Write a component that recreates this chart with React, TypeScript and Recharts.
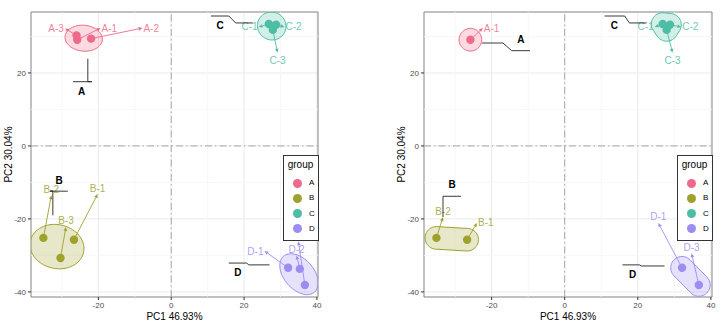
import React from 'react';
import { ScatterChart, Scatter, XAxis, YAxis, CartesianGrid, ReferenceLine, ReferenceArea } from 'recharts';

const groups = ['A', 'B', 'C', 'D'];
const groupColors = ['#EE6A8A', '#A0A12C', '#4DBEA4', '#9D8DF3'];

const sampleNames = ['A-1', 'A-2', 'A-3', 'B-1', 'B-2', 'B-3', 'C-1', 'C-2', 'C-3', 'D-1', 'D-2', 'D-3'];
const sampleGroup = [0, 0, 0, 1, 1, 1, 2, 2, 2, 3, 3, 3];
const pc1 = [-25.8, -22.0, -26.0, -26.7, -35.1, -30.4, 26.8, 28.8, 27.9, 32.1, 35.3, 36.7];
const pc2 = [29.1, 29.4, 30.3, -25.7, -25.2, -30.7, 33.4, 33.2, 31.8, -33.4, -33.7, -38.1];

// left panel: every sample, repel label anchors (arrow ends)
const leftSamples = [0, 1, 2, 3, 4, 5, 6, 7, 8, 9, 10, 11];
const leftLabelX = [-19.4, -7.9, -29.2, -20.2, -32.9, -28.9, 24.0, 31.1, 29.2, 25.6, 34.4, 34.9];
const leftLabelY = [32.3, 32.3, 32.2, -13.2, -13.5, -22.2, 32.6, 32.6, 25.5, -28.8, -30.0, -26.1];
const leftLabelSide = ['right', 'right', 'left', 'above', 'above', 'above', 'left', 'right', 'below', 'left', 'above', 'above'];

// right panel: subset of samples
const rightSamples = [0, 3, 4, 6, 7, 8, 9, 11];
const rightLabelX = [-22.4, -24.0, -33.3, 24.6, 31.9, 29.5, 25.6, 34.7];
const rightLabelY = [32.3, -21.1, -19.5, 32.6, 32.6, 25.5, -21.1, -29.4];
const rightLabelSide = ['right', 'right', 'above', 'left', 'right', 'below', 'above', 'above'];

// group tags (elbow connectors + text), per group A..D
const leftTagLines = [
  [[-22.9, 23.9], [-22.9, 17.6], [-21.8, 17.6], [-27.0, 17.6]],
  [[-32.5, -19.0], [-32.5, -12.4], [-33.3, -12.4], [-28.4, -12.4]],
  [[22.4, 33.7], [17.7, 33.7], [15.8, 35.6], [10.9, 35.6]],
  [[27.0, -32.6], [21.3, -32.6], [20.7, -32.1], [15.8, -32.1]],
];
const leftTagText = [[-24.6, 14.9], [-30.8, -9.4], [13.4, 32.9], [18.3, -34.8]];
const rightTagLines = [
  [[-22.6, 28.2], [-16.9, 28.2], [-14.5, 26.1], [-9.5, 26.1]],
  [[-33.3, -19.5], [-33.3, -13.8], [-28.4, -13.8]],
  [[22.4, 33.7], [17.7, 33.7], [16.4, 35.6], [10.9, 35.6]],
  [[27.3, -32.9], [21.0, -32.9], [20.5, -32.6], [15.8, -32.6]],
];
const rightTagText = [[-12.0, 29.1], [-30.8, -10.5], [13.6, 32.9], [18.6, -35.3]];

const xTicks = [-20, 0, 20, 40];
const yTicks = [-40, -20, 0, 20];
const xMinor = [-30, -10, 10, 30];
const yMinor = [-30, -10, 10, 30];
const xDomain = [-38.5, 40.3];
const yDomain = [-41.4, 36.7];

const FONT = '"Liberation Sans", Arial, sans-serif';

const ellipseOutline = (xs: number[], ys: number[], pad: number) => {
  const n = xs.length;
  const mx = xs.reduce((a, b) => a + b, 0) / n;
  const my = ys.reduce((a, b) => a + b, 0) / n;
  let sxx = 0, syy = 0, sxy = 0;
  xs.forEach((x, i) => {
    sxx += (x - mx) * (x - mx);
    syy += (ys[i] - my) * (ys[i] - my);
    sxy += (x - mx) * (ys[i] - my);
  });
  const th = 0.5 * Math.atan2(2 * sxy, sxx - syy);
  const c = Math.cos(th), s = Math.sin(th);
  const us = xs.map((x, i) => (x - mx) * c + (ys[i] - my) * s);
  const vs = xs.map((x, i) => -(x - mx) * s + (ys[i] - my) * c);
  const u0 = (Math.min(...us) + Math.max(...us)) / 2;
  const v0 = (Math.min(...vs) + Math.max(...vs)) / 2;
  const a = ((Math.max(...us) - Math.min(...us)) / 2) * 1.1 + pad;
  const b = ((Math.max(...vs) - Math.min(...vs)) / 2) * 1.1 + pad;
  const cx = mx + u0 * c - v0 * s;
  const cy = my + u0 * s + v0 * c;
  const out = [];
  for (let k = 0; k < 72; k++) {
    const t = (k / 72) * Math.PI * 2;
    const u = a * Math.cos(t), v = b * Math.sin(t);
    out.push({ x: cx + u * c - v * s, y: cy + u * s + v * c });
  }
  return out;
};

const hullOutline = (xs: number[], ys: number[], r: number) => {
  const pts: { x: number; y: number }[] = [];
  xs.forEach((x, i) => {
    for (let k = 0; k < 48; k++) {
      const t = (k / 48) * Math.PI * 2;
      pts.push({ x: x + r * Math.cos(t), y: ys[i] + r * Math.sin(t) });
    }
  });
  pts.sort((p, q) => (p.x === q.x ? p.y - q.y : p.x - q.x));
  const cross = (o: any, a: any, b: any) => (a.x - o.x) * (b.y - o.y) - (a.y - o.y) * (b.x - o.x);
  const lower: any[] = [];
  for (const p of pts) {
    while (lower.length >= 2 && cross(lower[lower.length - 2], lower[lower.length - 1], p) <= 0) lower.pop();
    lower.push(p);
  }
  const upper: any[] = [];
  for (let i = pts.length - 1; i >= 0; i--) {
    const p = pts[i];
    while (upper.length >= 2 && cross(upper[upper.length - 2], upper[upper.length - 1], p) <= 0) upper.pop();
    upper.push(p);
  }
  return lower.slice(0, -1).concat(upper.slice(0, -1));
};

const hiddenShape = () => <g />;

const closedShape = (color: string) => (props: any) => {
  const pts = props.points || [];
  if (!pts.length) return <g />;
  const d = pts.map((p: any, i: number) => `${i ? 'L' : 'M'}${p.x},${p.y}`).join('') + 'Z';
  return <path d={d} fill={color} fillOpacity={0.25} stroke={color} strokeWidth={1} />;
};

const arrowLine = (color: string) => (props: any) => {
  const pts = props.points || [];
  if (pts.length < 2) return <g />;
  const p = pts[0], q = pts[1];
  const dx = q.x - p.x, dy = q.y - p.y;
  const len = Math.hypot(dx, dy) || 1;
  const ux = dx / len, uy = dy / len;
  const sx = p.x + ux * 4, sy = p.y + uy * 4;
  const bx = q.x - ux * 4, by = q.y - uy * 4;
  return (
    <g>
      <line x1={sx} y1={sy} x2={bx} y2={by} stroke={color} strokeWidth={0.9} />
      <polygon points={`${q.x},${q.y} ${bx - uy * 1.8},${by + ux * 1.8} ${bx + uy * 1.8},${by - ux * 1.8}`} fill={color} />
    </g>
  );
};

const polyLine = (props: any) => {
  const pts = props.points || [];
  const d = pts.map((p: any, i: number) => `${i ? 'L' : 'M'}${p.x},${p.y}`).join('');
  return <path d={d} fill="none" stroke="#222" strokeWidth={0.9} />;
};

const labelShape = (props: any) => {
  const { cx, cy, payload } = props;
  let x = cx, y = cy, anchor = 'middle';
  if (payload.side === 'right') { x = cx + 1; anchor = 'start'; }
  if (payload.side === 'left') { x = cx - 1; anchor = 'end'; }
  if (payload.side === 'above') y = cy - 6;
  if (payload.side === 'below') y = cy + 8;
  return (
    <text x={x} y={y} textAnchor={anchor} dominantBaseline="central" fontSize={10} fill={payload.color} fillOpacity={0.85}>
      {payload.name}
    </text>
  );
};

const tagShape = (props: any) => (
  <text x={props.cx} y={props.cy} textAnchor="middle" dominantBaseline="central" fontSize={10} fontWeight="bold" fill="#000">
    {props.payload.name}
  </text>
);

type PanelProps = {
  samples: number[];
  labelX: number[];
  labelY: number[];
  labelSide: string[];
  tagLines: number[][][];
  tagText: number[][];
  mode: 'ellipse' | 'hull';
  marginLeft: number;
  marginRight: number;
  legendLeft: number;
};

const Panel = ({ samples, labelX, labelY, labelSide, tagLines, tagText, mode, marginLeft, marginRight, legendLeft }: PanelProps) => {
  const byGroup = groups.map((_, g) => samples.filter((i) => sampleGroup[i] === g));
  return (
    <div style={{ position: 'relative', width: 360, height: 328 }}>
      <ScatterChart width={360} height={328} margin={{ top: 12, right: marginRight, bottom: 0, left: marginLeft }}>
        <CartesianGrid stroke="#EBEBEB" strokeWidth={1} />
        {xMinor.map((v) => (
          <ReferenceLine key={`xm${v}`} x={v} stroke="#F5F5F5" strokeWidth={0.8} />
        ))}
        {yMinor.map((v) => (
          <ReferenceLine key={`ym${v}`} y={v} stroke="#F5F5F5" strokeWidth={0.8} />
        ))}
        <XAxis
          type="number"
          dataKey="x"
          domain={xDomain}
          ticks={xTicks}
          allowDataOverflow
          axisLine={false}
          tickSize={3}
          tickLine={{ stroke: '#333' }}
          tick={{ fontSize: 8, fill: '#4D4D4D' }}
          height={31}
          label={{
            content: (p: any) => (
              <text x={p.viewBox.x + p.viewBox.width / 2} y={p.viewBox.y + 19} textAnchor="middle" dominantBaseline="central" fontSize={10} fill="#000">
                PC1 46.93%
              </text>
            ),
          }}
        />
        <YAxis
          type="number"
          dataKey="y"
          domain={yDomain}
          ticks={yTicks}
          allowDataOverflow
          axisLine={false}
          tickSize={3}
          tickLine={{ stroke: '#333' }}
          tick={{ fontSize: 8, fill: '#4D4D4D' }}
          width={31}
          label={{
            content: (p: any) => {
              const x = p.viewBox.x + 8;
              const y = p.viewBox.y + p.viewBox.height / 2;
              return (
                <text x={x} y={y} transform={`rotate(-90, ${x}, ${y})`} textAnchor="middle" dominantBaseline="central" fontSize={10} fill="#000">
                  PC2 30.04%
                </text>
              );
            },
          }}
        />
        <ReferenceLine x={0} stroke="#A8A8A8" strokeWidth={1} strokeDasharray="7 3 1.5 3" />
        <ReferenceLine y={0} stroke="#A8A8A8" strokeWidth={1} strokeDasharray="7 3 1.5 3" />
        {byGroup.map((idx, g) => {
          const xs = idx.map((i) => pc1[i]);
          const ys = idx.map((i) => pc2[i]);
          const outline = mode === 'ellipse' ? ellipseOutline(xs, ys, 2.9) : hullOutline(xs, ys, 3.1);
          return (
            <Scatter key={`mark${g}`} data={outline} shape={hiddenShape} line={closedShape(groupColors[g])} isAnimationActive={false} />
          );
        })}
        {byGroup.map((idx, g) => (
          <Scatter
            key={`pts${g}`}
            data={idx.map((i) => ({ x: pc1[i], y: pc2[i] }))}
            shape={(p: any) => <circle cx={p.cx} cy={p.cy} r={4.2} fill={groupColors[g]} />}
            isAnimationActive={false}
          />
        ))}
        {samples.map((i, k) => (
          <Scatter
            key={`arr${i}`}
            data={[{ x: pc1[i], y: pc2[i] }, { x: labelX[k], y: labelY[k] }]}
            shape={hiddenShape}
            line={arrowLine(groupColors[sampleGroup[i]])}
            isAnimationActive={false}
          />
        ))}
        <Scatter
          data={samples.map((i, k) => ({ x: labelX[k], y: labelY[k], name: sampleNames[i], side: labelSide[k], color: groupColors[sampleGroup[i]] }))}
          shape={labelShape}
          isAnimationActive={false}
        />
        {tagLines.map((line, g) => (
          <Scatter key={`tag${g}`} data={line.map(([x, y]) => ({ x, y }))} shape={hiddenShape} line={polyLine} isAnimationActive={false} />
        ))}
        <Scatter data={tagText.map(([x, y], g) => ({ x, y, name: groups[g] }))} shape={tagShape} isAnimationActive={false} />
        <ReferenceArea x1={xDomain[0]} x2={xDomain[1]} y1={yDomain[0]} y2={yDomain[1]} fill="none" stroke="#8C8C8C" strokeWidth={1} ifOverflow="visible" />
      </ScatterChart>
      <div
        style={{
          position: 'absolute',
          left: legendLeft,
          top: 155,
          width: 36,
          height: 86,
          boxSizing: 'border-box',
          border: '1.5px solid #333',
          background: '#fff',
        }}
      >
        <div style={{ position: 'absolute', left: 0, width: 33, top: 3, textAlign: 'center', fontSize: 10, color: '#000' }}>group</div>
        {groups.map((g, k) => (
          <div key={g}>
            <div
              style={{
                position: 'absolute',
                left: 8.5,
                top: 22.5 + k * 15.3,
                width: 9,
                height: 9,
                borderRadius: '50%',
                background: groupColors[k],
              }}
            />
            <div style={{ position: 'absolute', left: 25, top: 22 + k * 15.3, fontSize: 8, lineHeight: '10px', color: '#000' }}>{g}</div>
          </div>
        ))}
      </div>
    </div>
  );
};

export default function App() {
  return (
    <div style={{ position: 'absolute', left: 0, top: 0, width: 720, height: 328, background: '#fff', display: 'flex', fontFamily: FONT }}>
      <Panel
        samples={leftSamples}
        labelX={leftLabelX}
        labelY={leftLabelY}
        labelSide={leftLabelSide}
        tagLines={leftTagLines}
        tagText={leftTagText}
        mode="ellipse"
        marginLeft={0}
        marginRight={42}
        legendLeft={283}
      />
      <Panel
        samples={rightSamples}
        labelX={rightLabelX}
        labelY={rightLabelY}
        labelSide={rightLabelSide}
        tagLines={rightTagLines}
        tagText={rightTagText}
        mode="hull"
        marginLeft={33}
        marginRight={8}
        legendLeft={317}
      />
    </div>
  );
}
